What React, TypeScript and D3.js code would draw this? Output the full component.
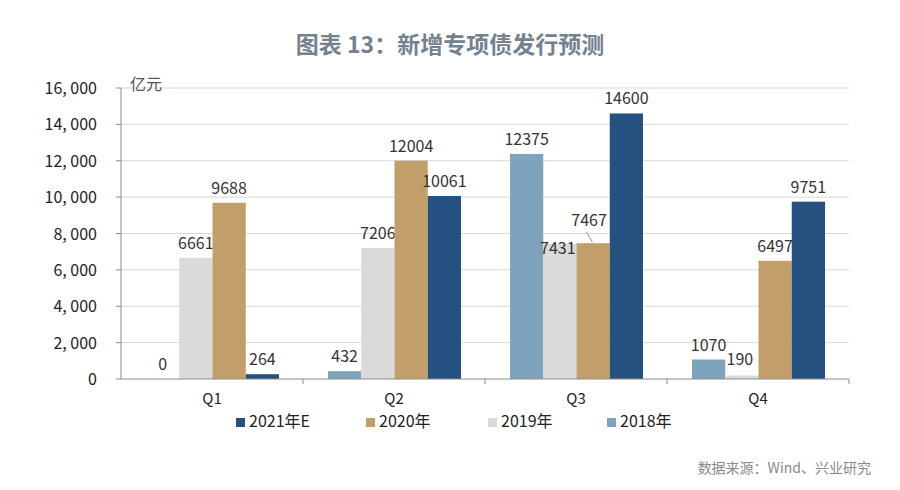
import React from "react";
import * as d3 from "d3";

const quarters = ["Q1", "Q2", "Q3", "Q4"];
const seriesNames = ["2018年", "2019年", "2020年", "2021年E"];
const values2018 = [0, 432, 12375, 1070];
const values2019 = [6661, 7206, 7431, 190];
const values2020 = [9688, 12004, 7467, 6497];
const values2021 = [264, 10061, 14600, 9751];
const colors = ["#7ea3bd", "#dadada", "#c29f6a", "#255181"];
const yTicks = [0, 2000, 4000, 6000, 8000, 10000, 12000, 14000, 16000];
const legendOrder = ["2021年E", "2020年", "2019年", "2018年"];

const allSeries = [values2018, values2019, values2020, values2021];

const width = 900;
const height = 490;
const margin = { top: 88, right: 51, bottom: 111, left: 121 };
const font = "'Noto Sans CJK SC', 'Noto Sans', sans-serif";

const App = () => {
  const x0 = d3
    .scaleBand()
    .domain(quarters)
    .range([margin.left, width - margin.right])
    .paddingInner(0)
    .paddingOuter(0);

  const x1 = d3
    .scaleBand()
    .domain(seriesNames)
    .range([25, x0.bandwidth() - 24])
    .padding(0);

  const y = d3
    .scaleLinear()
    .domain([0, 16000])
    .range([height - margin.bottom, margin.top]);

  const fmt = (v) => d3.format(",")(v).replace(",", ", ");

  // label nudges for crowded spots (Q3 2019/2020)
  const labelShift = (s, q) => {
    if (q === "Q3" && s === "2019年") return { dx: -2, dy: 19 };
    if (q === "Q3" && s === "2020年") return { dx: -4, dy: -8 };
    if (q === "Q4" && s === "2019年") return { dx: -2, dy: -2 };
    return { dx: 0, dy: 0 };
  };

  const legendX = [236, 366, 488, 607];
  const q3x = x0("Q3") + x1("2020年");

  return (
    <svg width={width} height={height} style={{ display: "block", position: "absolute", left: 0, top: 0 }}>
      <rect width={width} height={height} fill="#ffffff" />
      <text x={450} y={53} textAnchor="middle" fontFamily={font} fontSize={23} fontWeight="bold" fill="#74818e">
        图表 13：新增专项债发行预测
      </text>

      {yTicks.map((t) => (
        <g key={t}>
          {t > 0 && (
            <line x1={margin.left} x2={width - margin.right} y1={y(t)} y2={y(t)} stroke="#d9d9d9" strokeWidth={1} />
          )}
          <line x1={margin.left - 5} x2={margin.left} y1={y(t)} y2={y(t)} stroke="#8c8c8c" />
          <text x={97} y={y(t) + 6} textAnchor="end" fontFamily={font} fontSize={16} fill="#222">
            {fmt(t)}
          </text>
        </g>
      ))}
      <text x={130} y={90} fontFamily={font} fontSize={16} fill="#555">亿元</text>

      {quarters.map((q, qi) => (
        <g key={q} transform={`translate(${x0(q)},0)`}>
          {seriesNames.map((s, si) => {
            const v = allSeries[si][qi];
            const bx = x1(s);
            const sh = labelShift(s, q);
            return (
              <g key={s}>
                <rect x={bx} y={y(v)} width={x1.bandwidth()} height={y(0) - y(v)} fill={colors[si]} />
                <text
                  x={bx + x1.bandwidth() / 2 + sh.dx}
                  y={y(v) - 9 + sh.dy}
                  textAnchor="middle"
                  fontFamily={font}
                  fontSize={16}
                  fill="#333"
                >
                  {v}
                </text>
              </g>
            );
          })}
          <text x={x0.bandwidth() / 2} y={404} textAnchor="middle" fontFamily={font} fontSize={15} fill="#222">
            {q}
          </text>
        </g>
      ))}

      {/* leader line for Q3 2020 */}
      <line x1={q3x + 10} y1={y(values2020[2]) - 11} x2={q3x + 16} y2={y(values2020[2]) - 1} stroke="#999" />

      <line x1={margin.left} x2={margin.left} y1={margin.top} y2={y(0)} stroke="#8c8c8c" />
      <line x1={margin.left} x2={width - margin.right} y1={y(0)} y2={y(0)} stroke="#8c8c8c" />
      {quarters.map((q) => (
        <line key={q} x1={x0(q) + x0.bandwidth()} x2={x0(q) + x0.bandwidth()} y1={y(0)} y2={y(0) + 5} stroke="#8c8c8c" />
      ))}

      {legendOrder.map((name, i) => (
        <g key={name} transform={`translate(${legendX[i]},427)`}>
          <rect x={0} y={-9} width={9} height={9} fill={colors[seriesNames.indexOf(name)]} />
          <text x={13} y={0} fontFamily={font} fontSize={16} fill="#222">{name}</text>
        </g>
      ))}

      <text x={871} y={473} textAnchor="end" fontFamily={font} fontSize={14} fill="#8a8a8a">
        数据来源：Wind、兴业研究
      </text>
    </svg>
  );
};

export default App;
